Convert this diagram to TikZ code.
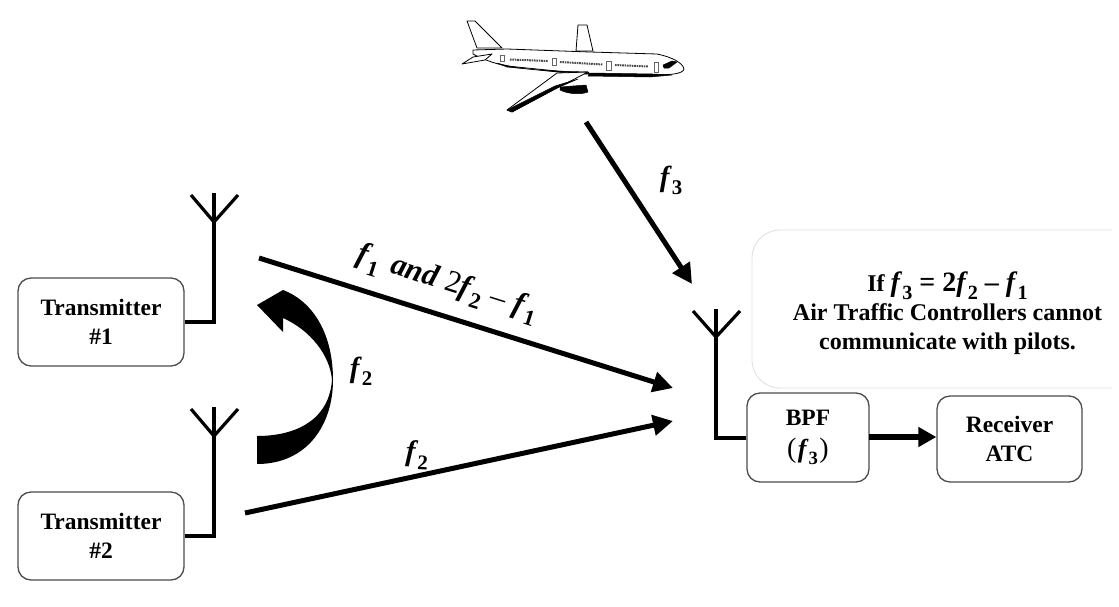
\documentclass[tikz,border=0pt]{standalone}
\usepackage{fontspec}
\setmainfont{Liberation Serif}
\usetikzlibrary{arrows.meta}
\newcommand{\ff}[1]{{\bfseries\itshape f}\kern.08em\raisebox{-.28em}{\fontsize{.72em}{1em}\selectfont\bfseries #1}}
\newcommand{\fsz}[2]{\fontsize{#1}{#2}\selectfont}
\tikzset{
  blockbox/.style={draw=black!70,line width=1.3pt,rounded corners=13pt,fill=white,inner sep=0pt,align=center,font=\fsz{23.5pt}{29.5pt}\bfseries},
  wire/.style={line width=3.2pt,line join=miter},
  bigarrow/.style={line width=5pt,-{Triangle[length=20pt,width=20pt]}},
  lab/.style={inner sep=0pt,font=\fsz{29pt}{29pt}},
  plane/.style={draw=black,line width=.8pt,fill=white,line join=round},
  planeink/.style={draw=black,fill=black,line width=.5pt,line join=round}
}
\begin{document}
\begin{tikzpicture}[x=1pt,y=-1pt]
\useasboundingbox (0,0) rectangle (1119,606);
% plane
\path[plane] (467,21) -- (475,21) -- (502,48) -- (477,48) -- cycle;
\path[plane] (578,25) -- (587,25) -- (593,51) -- (576,51) -- cycle;
\path[plane] (473,50) -- (507,49) -- (590,52) -- (657,54) .. controls (672,57) and (683,63) .. (684,69) .. controls (683,74) and (670,75) .. (653,75) -- (587,74) -- (567,72) -- (507,66) .. controls (495,64) and (480,58) .. (473,54) -- cycle;
\path[plane] (462,64) -- (473,57) -- (492,54) -- (485,60) -- cycle;
\path[planeink] (497,63) .. controls (520,70) and (550,71) .. (588,72) -- (590,74) -- (567,73) -- (507,67) -- cycle;
\path[planeink] (590,73) -- (653,74) -- (672,75) -- (650,77) -- (588,76) -- cycle;
\path[planeink] (560,87) -- (586,85) -- (588,92) .. controls (580,95) and (568,94) .. (560,90) -- cycle;
\path[plane] (588,72) -- (557,73) -- (507,110) -- (512,112) -- (557,88) -- cycle;
\path[planeink] (507,110) -- (512,112) -- (557,88) -- (578,79) -- (555,86) -- cycle;
\path[planeink] (663,65) -- (672,61) -- (677,62) -- (669,68) -- (664,68) -- cycle;
\draw[line width=2pt,black!70,dash pattern=on 1.6pt off .8pt] (510,59.5) -- (548,61);
\draw[line width=2pt,black!70,dash pattern=on 1.6pt off .8pt] (560,62) -- (603,64.5);
\draw[line width=2pt,black!70,dash pattern=on 1.6pt off .8pt] (615,65) -- (648,66.5);
\draw[black!60,line width=.9pt,fill=white] (500,55) rectangle (504,61);
\draw[black!60,line width=.9pt,fill=white] (552,58) rectangle (556,65);
\draw[black!60,line width=.9pt,fill=white] (606,61) rectangle (611,70);
\draw[black!60,line width=.9pt,fill=white] (654,62) rectangle (658,72);

% callout
\draw[black!12,line width=.9pt,rounded corners=28pt] (1112,230) -- (752,230) -- (752,388) -- (1112,388);
\node[inner sep=0pt,align=center,font=\fsz{24pt}{29pt}\bfseries] (note) at (947.5,313.5) {If {\fsz{28pt}{29pt}\ff{3} = 2\ff{2} -- \ff{1}}\\Air Traffic Controllers cannot\\communicate with pilots.};

% boxes
\node[blockbox,minimum width=166pt,minimum height=88pt] (tx1) at (101,322) {Transmitter\\\#1};
\node[blockbox,minimum width=166pt,minimum height=88pt] (tx2) at (101,536) {Transmitter\\\#2};
\node[blockbox,minimum width=122pt,minimum height=89pt] (bpf) at (808,437.5) {BPF\\[2pt]{\fsz{28pt}{28pt}\mdseries(\kern.05em}{\fsz{26pt}{26pt}\ff{3}}{\fsz{28pt}{28pt}\mdseries\kern.05em)}};
\node[blockbox,minimum width=145pt,minimum height=86pt] (rx) at (1009.5,439) {Receiver\\ATC};

% antennas
\coordinate (a1b) at (214,322); \coordinate (a1j) at (214,222); \coordinate (a1t) at (214,193);
\coordinate (a1l) at (191,195); \coordinate (a1r) at (238,195);
\coordinate (a2b) at (214,536); \coordinate (a2j) at (214,436); \coordinate (a2t) at (214,407);
\coordinate (a2l) at (191,409); \coordinate (a2r) at (238,409);
\coordinate (a3b) at (716,438); \coordinate (a3j) at (716,337); \coordinate (a3t) at (716,309);
\coordinate (a3l) at (693,311); \coordinate (a3r) at (740,311);
\draw[wire] (tx1.east |- a1b) -- (a1b) -- (a1t);
\draw[wire] (tx2.east |- a2b) -- (a2b) -- (a2t);
\draw[wire] (bpf.west |- a3b) -- (a3b) -- (a3t);
\draw[wire] (a1l) -- (a1j) -- (a1r);
\draw[wire] (a2l) -- (a2j) -- (a2r);
\draw[wire] (a3l) -- (a3j) -- (a3r);

% arrows
\coordinate (s1) at (259,258); \coordinate (e1) at (673,388);
\coordinate (s2) at (245,513); \coordinate (e2) at (673,421);
\coordinate (s3) at (586,122); \coordinate (e3) at (692,284);
\draw[bigarrow] (s1) -- (e1);
\draw[bigarrow] (s2) -- (e2);
\draw[bigarrow] (s3) -- (e3);
\coordinate (bpfout) at (869,437);
\draw[line width=5.5pt,-{Triangle[length=18pt,width=19pt]}] (bpfout) -- (bpfout -| rx.west);

% curved arrow
\path[fill=black] (257,305) -- (283,290) .. controls (310,300) and (333,330) .. (333,380)
  .. controls (333,425) and (307,464) .. (257,464) -- (257,436)
  .. controls (296,436) and (329,420) .. (332,380)
  .. controls (330,355) and (310,330) .. (283,318) -- (283,332) -- cycle;

% labels
\node[lab] (lf2) at (361,371) {\ff{2}};
\node[lab] (lf3) at (671,180) {\ff{3}};
\node[lab,rotate=-3] (lf2b) at (417,455) {\ff{2}};
\node[lab,rotate=-17.5,font=\fsz{31pt}{31pt}] (lf1) at (447,284) {\ff{1}\hspace{.12em} {\bfseries\itshape and} \hspace{.02em}2\ff{2}\hspace{.28em}--\hspace{.28em}\ff{1}};
\end{tikzpicture}
\end{document}
